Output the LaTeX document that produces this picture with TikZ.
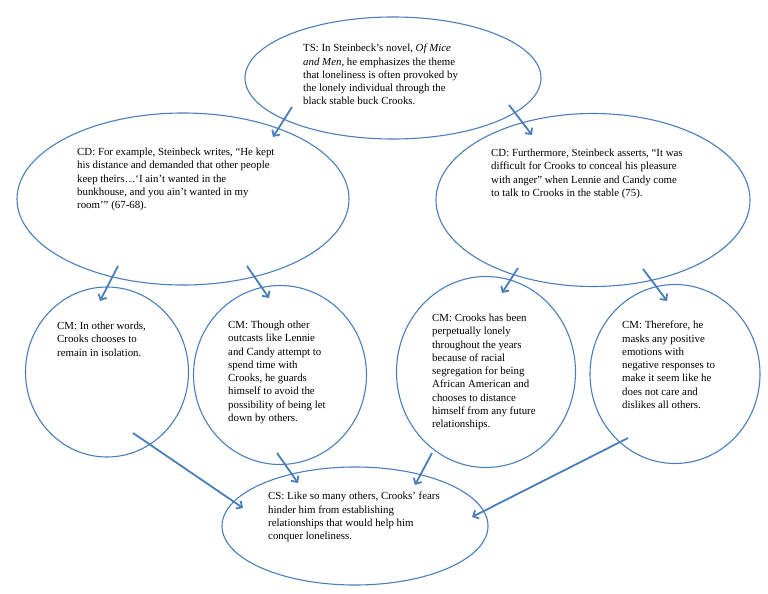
\documentclass[tikz,border=0pt]{standalone}
\usepackage{fontspec}
\setmainfont{Liberation Serif}
\usetikzlibrary{shapes.geometric,arrows.meta}
\definecolor{oblue}{HTML}{4A7EBB}
\tikzset{
  bubble/.style={draw=oblue, line width=1.1bp, ellipse, inner sep=0pt},
  txt/.style={anchor=north west, align=left, inner sep=0pt, font=\fontsize{10.9}{13.3}\selectfont},
  link/.style={draw=oblue, line width=1.8bp, -{Straight Barb[length=4.5bp,width=9bp]}}
}
\begin{document}
\begin{tikzpicture}[x=1bp,y=-1bp]
\useasboundingbox (0,0) rectangle (768,594);
% shapes
\node[bubble, minimum width=296bp, minimum height=122bp] (ts) at (393,78) {};
\node[bubble, minimum width=332bp, minimum height=172bp] (cdl) at (183,199) {};
\node[bubble, minimum width=314bp, minimum height=173bp] (cdr) at (593,200) {};
\node[bubble, minimum width=163bp, minimum height=170bp] (cm1) at (107,372) {};
\node[bubble, minimum width=173bp, minimum height=179bp] (cm2) at (280,375) {};
\node[bubble, minimum width=179bp, minimum height=191bp] (cm3) at (486,372) {};
\node[bubble, minimum width=170bp, minimum height=179bp] (cm4) at (675,374) {};
\node[bubble, minimum width=266bp, minimum height=118bp] (cs) at (355,526) {};
% texts
\node[txt] (tstxt) at (303,44) {TS: In Steinbeck’s novel, \textit{Of Mice}\\\textit{and Men}, he emphasizes the theme\\that loneliness is often provoked by\\the lonely individual through the\\black stable buck Crooks.};
\node[txt] (cdltxt) at (77,148) {CD: For example, Steinbeck writes, “He kept\\his distance and demanded that other people\\keep theirs…‘I ain’t wanted in the\\bunkhouse, and you ain’t wanted in my\\room’” (67-68).};
\node[txt] (cdrtxt) at (491,149) {CD: Furthermore, Steinbeck asserts, “It was\\difficult for Crooks to conceal his pleasure\\with anger” when Lennie and Candy come\\to talk to Crooks in the stable (75).};
\node[txt] (cm1txt) at (57,322) {CM: In other words,\\Crooks chooses to\\remain in isolation.};
\node[txt] (cm2txt) at (228,321) {CM: Though other\\outcasts like Lennie\\and Candy attempt to\\spend time with\\Crooks, he guards\\himself to avoid the\\possibility of being let\\down by others.};
\node[txt] (cm3txt) at (432,314) {CM: Crooks has been\\perpetually lonely\\throughout the years\\because of racial\\segregation for being\\African American and\\chooses to distance\\himself from any future\\relationships.};
\node[txt] (cm4txt) at (622,321) {CM: Therefore, he\\masks any positive\\emotions with\\negative responses to\\make it seem like he\\does not care and\\dislikes all others.};
\node[txt] (cstxt) at (268,492) {CS: Like so many others, Crooks’ fears\\hinder him from establishing\\relationships that would help him\\conquer loneliness.};
% arrow end points
\coordinate (a1s) at (292,107); \coordinate (a1e) at (273,137);
\coordinate (a2s) at (509,105); \coordinate (a2e) at (532,135);
\coordinate (a3s) at (118,266); \coordinate (a3e) at (100,301);
\coordinate (a4s) at (247,266); \coordinate (a4e) at (269,298);
\coordinate (a5s) at (518,268); \coordinate (a5e) at (502,293);
\coordinate (a6s) at (643,269); \coordinate (a6e) at (667,301);
\coordinate (a7s) at (133,433); \coordinate (a7e) at (243,508);
\coordinate (a8s) at (277,453); \coordinate (a8e) at (298,483);
\coordinate (a9s) at (432,453); \coordinate (a9e) at (415,485);
\coordinate (a10s) at (628,438); \coordinate (a10e) at (472,517);
% connectors
\draw[link] (a1s) -- (a1e);
\draw[link] (a2s) -- (a2e);
\draw[link] (a3s) -- (a3e);
\draw[link] (a4s) -- (a4e);
\draw[link] (a5s) -- (a5e);
\draw[link] (a6s) -- (a6e);
\draw[link] (a7s) -- (a7e);
\draw[link] (a8s) -- (a8e);
\draw[link] (a9s) -- (a9e);
\draw[link] (a10s) -- (a10e);
\end{tikzpicture}
\end{document}
